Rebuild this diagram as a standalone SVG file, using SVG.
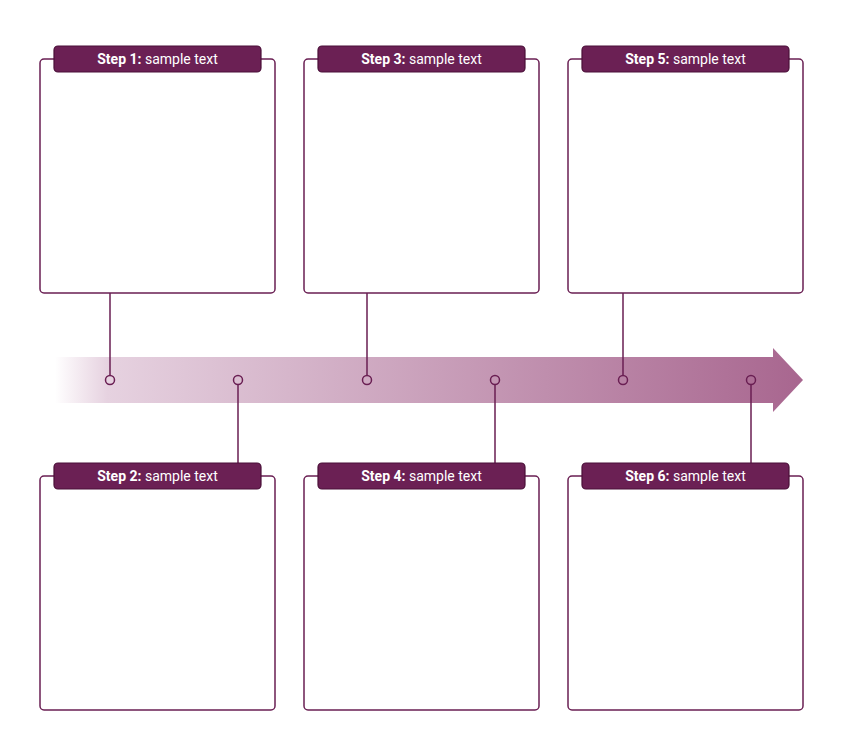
<svg xmlns="http://www.w3.org/2000/svg" width="843" height="756" viewBox="0 0 843 756">
<style>
.box{fill:#fff;stroke:#6a1f53;stroke-width:1.5}
.hd{fill:#6b2054;stroke:#4a0f38;stroke-width:1.2}
.t{font-family:Roboto,"Liberation Sans",sans-serif;font-size:14px;fill:#fff;text-anchor:middle}
.c{fill:none;stroke:#6a1f53;stroke-width:1.5}
.dot{fill:none;stroke:#6a1f53;stroke-width:1.5}
</style>
<defs>
<linearGradient id="g" x1="55" y1="0" x2="803" y2="0" gradientUnits="userSpaceOnUse">
<stop offset="0" stop-color="#e6d0df" stop-opacity="0"/>
<stop offset="0.07" stop-color="#e6d2e0"/>
<stop offset="1" stop-color="#a8668f"/>
</linearGradient>
</defs>
<path id="arrow" d="M55 357H773V348L803 380L773 412V403H55Z" fill="url(#g)"/>
<g id="connectors">
<path class="c" d="M110 293V375M367 293V375M623 293V375M238 385V463M495 385V463M751 385V463"/>
<circle class="dot" cx="110" cy="380" r="4.5"/><circle class="dot" cx="238" cy="380" r="4.5"/>
<circle class="dot" cx="367" cy="380" r="4.5"/><circle class="dot" cx="495" cy="380" r="4.5"/>
<circle class="dot" cx="623" cy="380" r="4.5"/><circle class="dot" cx="751" cy="380" r="4.5"/>
</g>
<g id="step1"><rect class="box" x="40" y="59" width="235" height="234" rx="4"/><rect class="hd" x="54" y="46" width="207" height="26" rx="4"/><text class="t" x="157.5" y="64"><tspan font-weight="bold">Step 1:</tspan> sample text</text></g>
<g id="step3"><rect class="box" x="304" y="59" width="235" height="234" rx="4"/><rect class="hd" x="318" y="46" width="207" height="26" rx="4"/><text class="t" x="421.5" y="64"><tspan font-weight="bold">Step 3:</tspan> sample text</text></g>
<g id="step5"><rect class="box" x="568" y="59" width="235" height="234" rx="4"/><rect class="hd" x="582" y="46" width="207" height="26" rx="4"/><text class="t" x="685.5" y="64"><tspan font-weight="bold">Step 5:</tspan> sample text</text></g>
<g id="step2"><rect class="box" x="40" y="476" width="235" height="234" rx="4"/><rect class="hd" x="54" y="463" width="207" height="26" rx="4"/><text class="t" x="157.5" y="481"><tspan font-weight="bold">Step 2:</tspan> sample text</text></g>
<g id="step4"><rect class="box" x="304" y="476" width="235" height="234" rx="4"/><rect class="hd" x="318" y="463" width="207" height="26" rx="4"/><text class="t" x="421.5" y="481"><tspan font-weight="bold">Step 4:</tspan> sample text</text></g>
<g id="step6"><rect class="box" x="568" y="476" width="235" height="234" rx="4"/><rect class="hd" x="582" y="463" width="207" height="26" rx="4"/><text class="t" x="685.5" y="481"><tspan font-weight="bold">Step 6:</tspan> sample text</text></g>
</svg>
